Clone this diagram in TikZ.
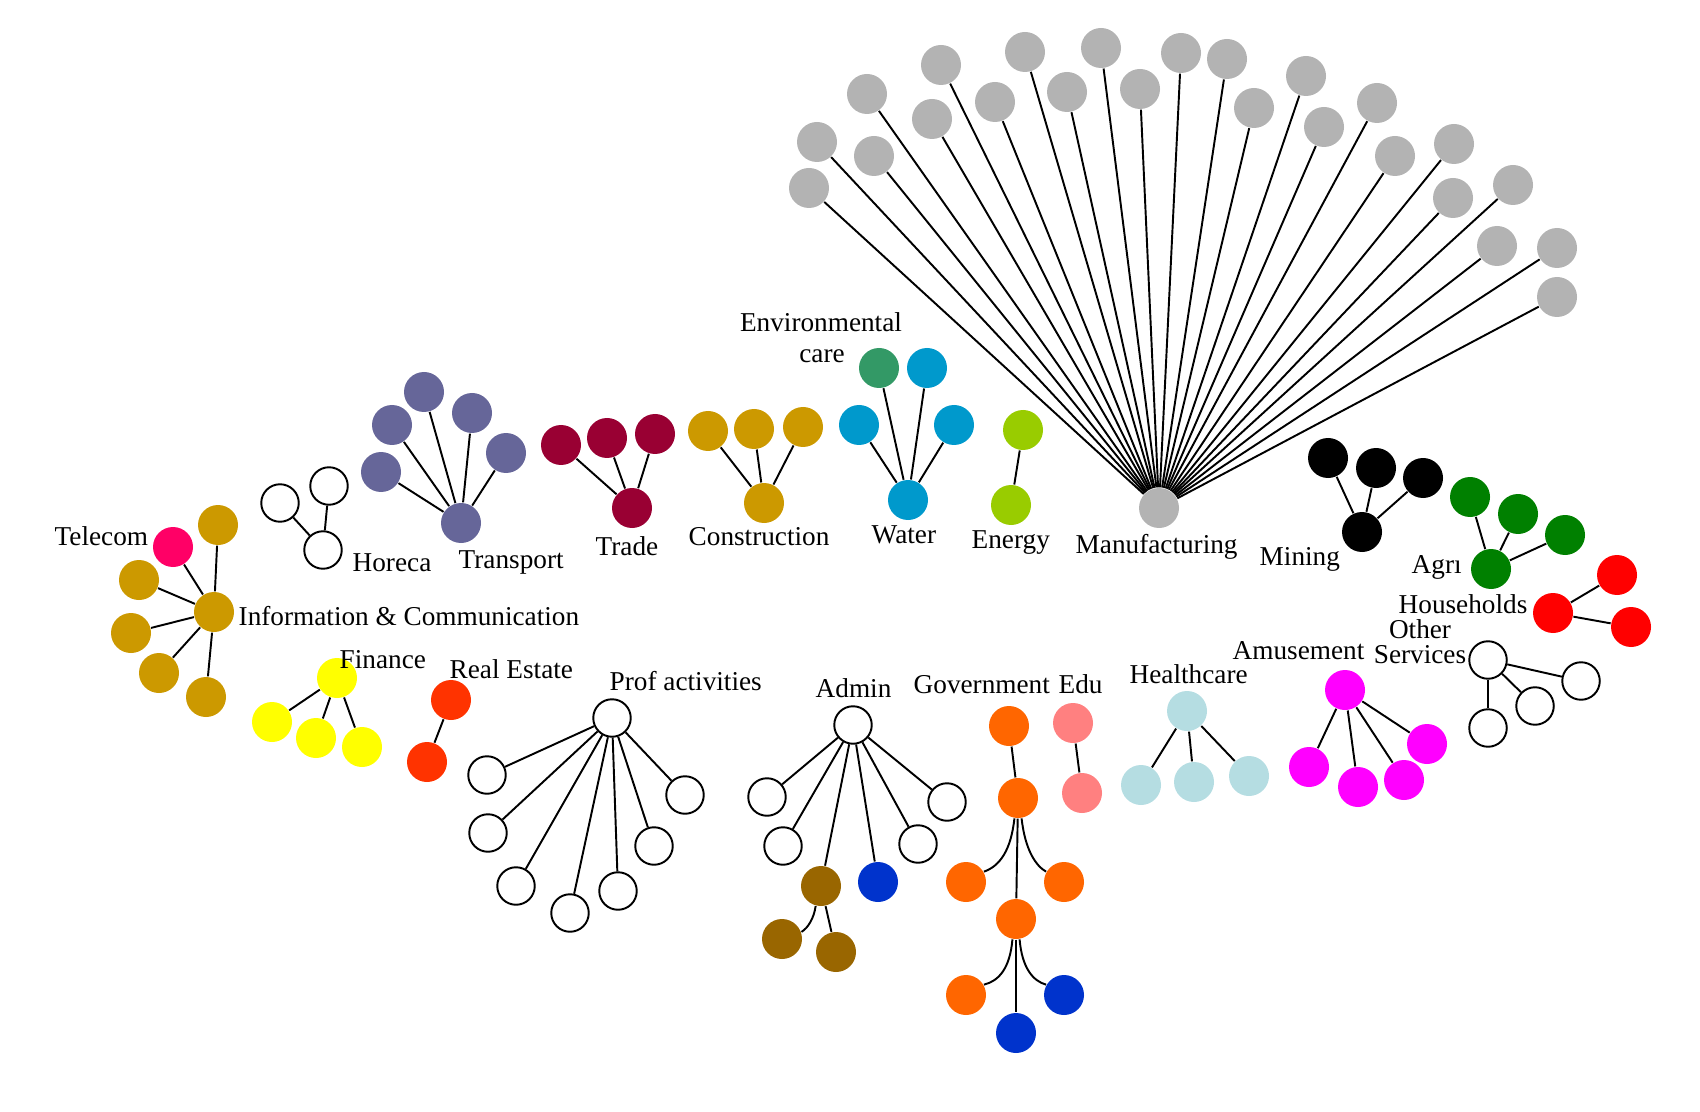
\documentclass[tikz,border=0pt]{standalone}
\usepackage{fontspec}
\setmainfont{Liberation Serif}
\newcommand\lbfont{\fontsize{7.75}{9}\selectfont}
\definecolor{cgray}{HTML}{B3B3B3}
\definecolor{cpurple}{HTML}{666699}
\definecolor{cmaroon}{HTML}{990033}
\definecolor{cgold}{HTML}{CC9900}
\definecolor{cwater}{HTML}{0099CC}
\definecolor{cenv}{HTML}{339966}
\definecolor{clime}{HTML}{99CC00}
\definecolor{cagri}{HTML}{008000}
\definecolor{cred}{HTML}{FF0000}
\definecolor{cmag}{HTML}{FF00FF}
\definecolor{chealth}{HTML}{B5DDE2}
\definecolor{cedu}{HTML}{FF8080}
\definecolor{corange}{HTML}{FF6600}
\definecolor{cblue}{HTML}{0033CC}
\definecolor{cbrown}{HTML}{996600}
\definecolor{creal}{HTML}{FF3300}
\definecolor{cyellow}{HTML}{FFFF00}
\definecolor{ctel}{HTML}{FF0066}
\tikzset{
  nd/.style={circle, inner sep=0pt, minimum size=4mm, fill=#1},
  wn/.style={circle, inner sep=0pt, minimum size=3.75mm, draw=black, line width=0.55pt, fill=white},
  lbl/.style={font=\lbfont, inner sep=0pt, anchor=base west},
  lblc/.style={font=\lbfont, inner sep=0pt, anchor=base},
  conn/.style={line width=0.55pt, draw=black}
}
\begin{document}
\begin{tikzpicture}[x=0.1mm,y=-0.1mm]
\useasboundingbox (0,0) rectangle (1700,1111);
% ---------- Manufacturing ----------
\node[nd=cgray] (mh) at (1159,508) {};
\foreach \i/\p in {1/{(809,188)},2/{(817,142)},3/{(874,156)},4/{(867,94)},5/{(932,119)},6/{(941,65)},7/{(995,102)},8/{(1025,52)},9/{(1067,92)},10/{(1101,48)},11/{(1140,89)},12/{(1181,53)},13/{(1227,59)},14/{(1254,108)},15/{(1306,76)},16/{(1324,127)},17/{(1377,103)},18/{(1395,156)},19/{(1454,144)},20/{(1453,198)},21/{(1513,185)},22/{(1497,246)},23/{(1557,248)},24/{(1557,297)}}{
  \node[nd=cgray] (m\i) at \p {};
  \draw[conn] (mh) -- (m\i);
}
% ---------- Information & Communication ----------
\node[nd=cgold] (ih) at (214,612) {};
\node[nd=cgold] (i1) at (218,525) {};
\node[nd=ctel] (tel) at (173,547) {};
\node[nd=cgold] (i2) at (139,580) {};
\node[nd=cgold] (i3) at (131,633) {};
\node[nd=cgold] (i4) at (159,673) {};
\node[nd=cgold] (i5) at (206,697) {};
\foreach \n in {i1,tel,i2,i3,i4,i5} \draw[conn] (ih) -- (\n);
% ---------- Horeca ----------
\node[wn] (h1) at (280,503) {};
\node[wn] (h2) at (329,486) {};
\node[wn] (h3) at (323,550) {};
\draw[conn] (h3) -- (h1);
\draw[conn] (h3) -- (h2);
% ---------- Transport ----------
\node[nd=cpurple] (th) at (461,523) {};
\node[nd=cpurple] (t1) at (424,392) {};
\node[nd=cpurple] (t2) at (392,425) {};
\node[nd=cpurple] (t3) at (472,413) {};
\node[nd=cpurple] (t4) at (381,472) {};
\node[nd=cpurple] (t5) at (506,453) {};
\foreach \n in {t1,t2,t3,t4,t5} \draw[conn] (th) -- (\n);
% ---------- Trade ----------
\node[nd=cmaroon] (rh) at (632,508) {};
\node[nd=cmaroon] (r1) at (561,445) {};
\node[nd=cmaroon] (r2) at (607,438) {};
\node[nd=cmaroon] (r3) at (655,434) {};
\foreach \n in {r1,r2,r3} \draw[conn] (rh) -- (\n);
% ---------- Construction ----------
\node[nd=cgold] (ch) at (764,503) {};
\node[nd=cgold] (c1) at (708,431) {};
\node[nd=cgold] (c2) at (754,429) {};
\node[nd=cgold] (c3) at (803,427) {};
\foreach \n in {c1,c2,c3} \draw[conn] (ch) -- (\n);
% ---------- Water ----------
\node[nd=cwater] (wh) at (908,500) {};
\node[nd=cenv] (env) at (879,368) {};
\node[nd=cwater] (w1) at (927,368) {};
\node[nd=cwater] (w2) at (859,425) {};
\node[nd=cwater] (w3) at (954,425) {};
\foreach \n in {env,w1,w2,w3} \draw[conn] (wh) -- (\n);
% ---------- Energy ----------
\node[nd=clime] (e1) at (1023,430) {};
\node[nd=clime] (e2) at (1011,505) {};
\draw[conn] (e2) -- (e1);
% ---------- Mining ----------
\node[nd=black] (mih) at (1362,532) {};
\node[nd=black] (mi1) at (1328,458) {};
\node[nd=black] (mi2) at (1376,468) {};
\node[nd=black] (mi3) at (1423,478) {};
\foreach \n in {mi1,mi2,mi3} \draw[conn] (mih) -- (\n);
% ---------- Agri ----------
\node[nd=cagri] (ah) at (1491,569) {};
\node[nd=cagri] (a1) at (1470,497) {};
\node[nd=cagri] (a2) at (1518,514) {};
\node[nd=cagri] (a3) at (1565,535) {};
\foreach \n in {a1,a2,a3} \draw[conn] (ah) -- (\n);
% ---------- Households ----------
\node[nd=cred] (hh) at (1553,613) {};
\node[nd=cred] (hh1) at (1617,575) {};
\node[nd=cred] (hh2) at (1631,627) {};
\draw[conn] (hh) -- (hh1);
\draw[conn] (hh) -- (hh2);
% ---------- Other Services ----------
\node[wn] (oh) at (1488,660) {};
\node[wn] (o1) at (1581,681) {};
\node[wn] (o2) at (1535,706) {};
\node[wn] (o3) at (1488,728) {};
\foreach \n in {o1,o2,o3} \draw[conn] (oh) -- (\n);
% ---------- Amusement ----------
\node[nd=cmag] (amh) at (1345,690) {};
\node[nd=cmag] (am1) at (1309,767) {};
\node[nd=cmag] (am2) at (1358,787) {};
\node[nd=cmag] (am3) at (1404,780) {};
\node[nd=cmag] (am4) at (1427,744) {};
\foreach \n in {am1,am2,am3,am4} \draw[conn] (amh) -- (\n);
% ---------- Healthcare ----------
\node[nd=chealth] (hch) at (1187,711) {};
\node[nd=chealth] (hc1) at (1141,785) {};
\node[nd=chealth] (hc2) at (1194,782) {};
\node[nd=chealth] (hc3) at (1249,776) {};
\foreach \n in {hc1,hc2,hc3} \draw[conn] (hch) -- (\n);
% ---------- Edu ----------
\node[nd=cedu] (ed1) at (1073,723) {};
\node[nd=cedu] (ed2) at (1082,793) {};
\draw[conn] (ed1) -- (ed2);
% ---------- Government ----------
\node[nd=corange] (g1) at (1009,726) {};
\node[nd=corange] (g2) at (1018,798) {};
\node[nd=corange] (g3) at (966,882) {};
\node[nd=corange] (g4) at (1064,882) {};
\node[nd=corange] (g5) at (1016,919) {};
\node[nd=corange] (g6) at (966,995) {};
\node[nd=cblue] (g7) at (1064,995) {};
\node[nd=cblue] (g8) at (1016,1033) {};
\draw[conn] (g1) -- (g2);
\draw[conn] (g2) -- (g5);
\draw[conn] (g5) -- (g8);
\draw[conn] (g2.260) .. controls (1011,850) and (1000,866) .. (g3.30);
\draw[conn] (g2.280) .. controls (1025,850) and (1036,866) .. (g4.150);
\draw[conn] (g5.260) .. controls (1010,968) and (999,981) .. (g6.30);
\draw[conn] (g5.280) .. controls (1022,968) and (1033,981) .. (g7.150);
% ---------- Admin ----------
\node[wn] (adh) at (853,725) {};
\node[wn] (ad1) at (767,797) {};
\node[wn] (ad2) at (783,846) {};
\node[nd=cbrown] (bh) at (821,886) {};
\node[nd=cblue] (adb) at (878,882) {};
\node[wn] (ad3) at (918,844) {};
\node[wn] (ad4) at (947,802) {};
\node[nd=cbrown] (bl) at (782,939) {};
\node[nd=cbrown] (br) at (836,952) {};
\foreach \n in {ad1,ad2,bh,adb,ad3,ad4} \draw[conn] (adh) -- (\n);
\draw[conn] (bh.255) .. controls (814,918) and (808,928) .. (bl.20);
\draw[conn] (bh) -- (br);
% ---------- Prof activities ----------
\node[wn] (ph) at (612,718) {};
\node[wn] (p1) at (487,775) {};
\node[wn] (p2) at (488,833) {};
\node[wn] (p3) at (516,886) {};
\node[wn] (p4) at (570,913) {};
\node[wn] (p5) at (618,891) {};
\node[wn] (p6) at (654,846) {};
\node[wn] (p7) at (685,795) {};
\foreach \n in {p1,p2,p3,p4,p5,p6,p7} \draw[conn] (ph) -- (\n);
% ---------- Real Estate ----------
\node[nd=creal] (re1) at (451,700) {};
\node[nd=creal] (re2) at (427,762) {};
\draw[conn] (re1) -- (re2);
% ---------- Finance ----------
\node[nd=cyellow] (f1) at (337,678) {};
\node[nd=cyellow] (f2) at (272,722) {};
\node[nd=cyellow] (f3) at (316,738) {};
\node[nd=cyellow] (f4) at (362,747) {};
\foreach \n in {f2,f3,f4} \draw[conn] (f1) -- (\n);
% ---------- Labels ----------
\node[lbl] (lTel) at (54,545) {Telecom};
\node[lbl] (lHor) at (352,571) {Horeca};
\node[lbl] (lTra) at (458,568) {Transport};
\node[lbl] (lInf) at (238,625) {Information \& Communication};
\node[lbl] (lFin) at (339,668) {Finance};
\node[lbl] (lRea) at (449,678) {Real Estate};
\node[lbl] (lTrd) at (595,555) {Trade};
\node[lbl] (lCon) at (688,545) {Construction};
\node[lbl] (lWat) at (871,543) {Water};
\node[lblc] (lEnv1) at (821,332) {Environmental};
\node[lblc] (lEnv2) at (822,363) {care};
\node[lbl] (lEne) at (971,548) {Energy};
\node[lbl] (lMan) at (1075,553) {Manufacturing};
\node[lbl] (lMin) at (1259,565) {Mining};
\node[lbl] (lAgr) at (1411,573) {Agrı};
\node[lbl] (lHou) at (1398,613) {Households};
\node[lblc] (lOth1) at (1420,638) {Other};
\node[lblc] (lOth2) at (1420,663) {Services};
\node[lbl] (lAmu) at (1232,659) {Amusement};
\node[lbl] (lHea) at (1129,683) {Healthcare};
\node[lbl] (lPro) at (609,690) {Prof activities};
\node[lbl] (lAdm) at (815,697) {Admin};
\node[lbl] (lGov) at (913,693) {Government};
\node[lbl] (lEdu) at (1058,693) {Edu};
\end{tikzpicture}
\end{document}
